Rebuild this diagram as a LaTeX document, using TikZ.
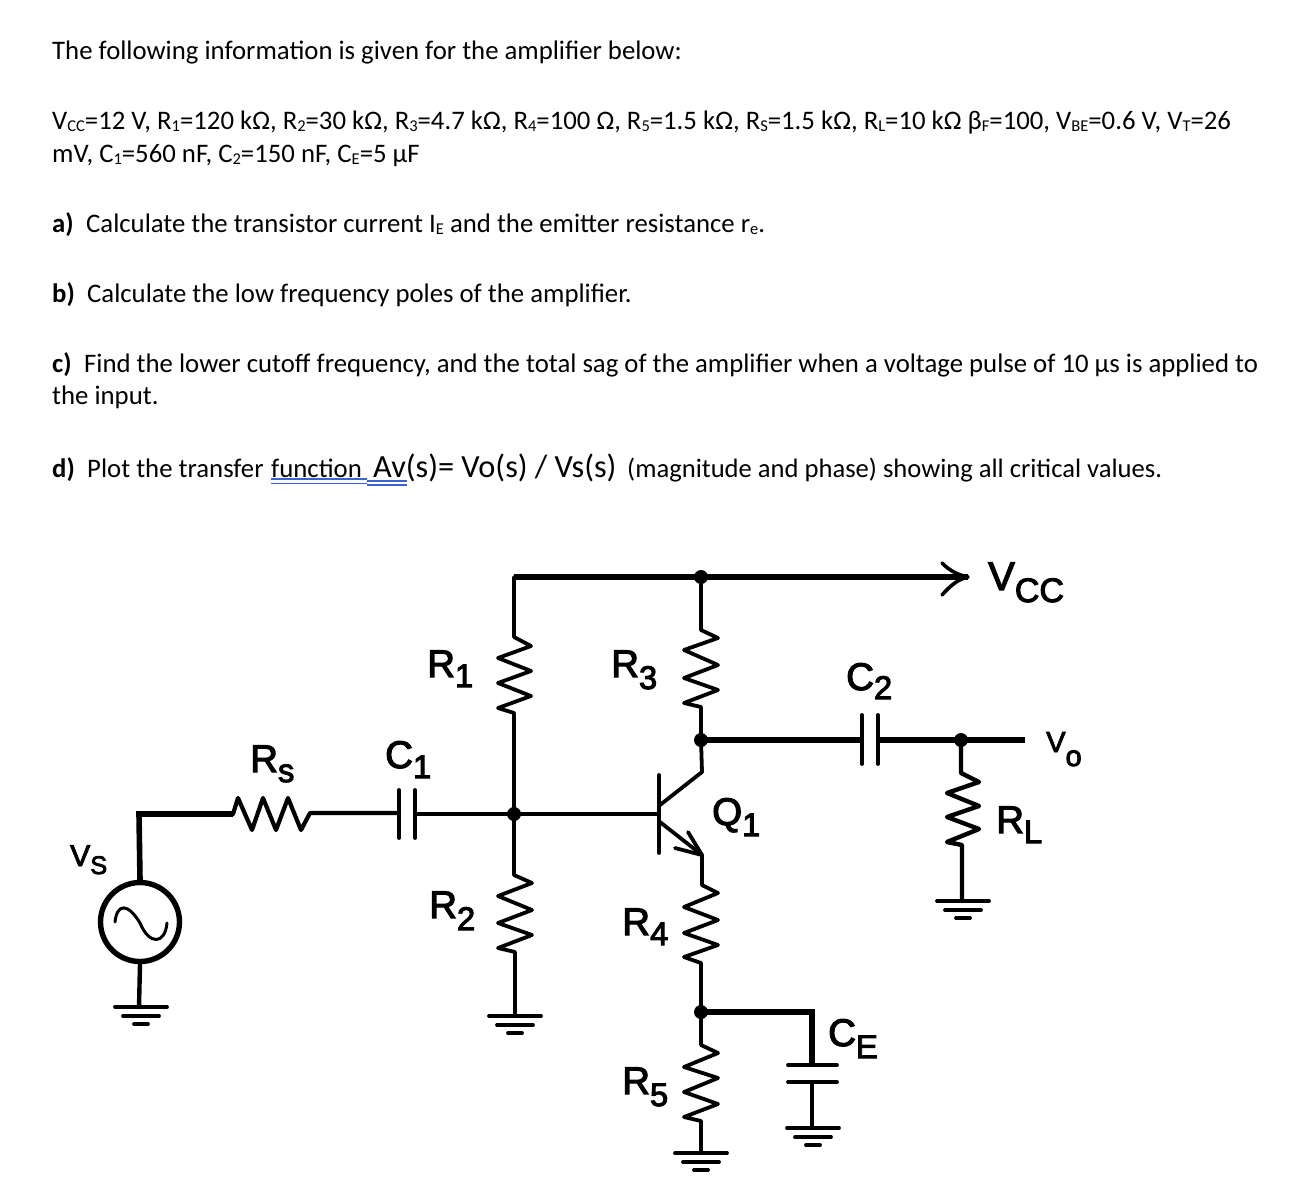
\documentclass[tikz,border=0pt]{standalone}
\usepackage{fontspec}
\setmainfont{Carlito}
\newfontfamily\cirfont[FakeBold=3]{Liberation Sans}
\usetikzlibrary{calc}
\definecolor{ulblue}{HTML}{3A62D2}
\newcommand{\sbs}[1]{\raisebox{-2.5pt}{\fontsize{16.5}{17}\selectfont #1}}
\newcommand{\lab}[7]{\node[lab] (#1) at (#2,#3) {\fontsize{#4}{#4}\selectfont #5\raisebox{#7pt}{\fontsize{\dimexpr#4pt*85/100\relax}{1}\selectfont #6}};}
\newcommand{\gnd}[1]{\begin{scope}[shift={(#1)}]
\draw[wire] (-26,0) -- (26,0);
\draw[wire] (-18,9) -- (18,9);
\draw[wire] (-7,17) -- (7,17);
\end{scope}}
\tikzset{
  x=1pt,y=-1pt,
  wire/.style={line width=3.8pt,line cap=round,line join=round,black},
  bus/.style={line width=5.6pt,line join=miter,black},
  junction/.style={circle,fill=black,minimum size=14pt,inner sep=0pt,draw=none},
  txt/.style={anchor=base west,inner sep=0pt,font=\fontsize{26.75}{32}\selectfont},
  btxt/.style={txt,font=\fontsize{26.75}{32}\selectfont\bfseries},
  lab/.style={anchor=base west,inner sep=0pt,font=\cirfont},
  ul/.style={line width=1.6pt,ulblue}
}
\begin{document}
\begin{tikzpicture}
\useasboundingbox (0,0) rectangle (1292,1202);
% ---------- text ----------
\node[txt] (t1) at (52,59) {The following information is given for the amplifier below:};
\node[txt] (t2) at (52,129) {V\sbs{CC}=12 V, R\sbs{1}=120 kΩ, R\sbs{2}=30 kΩ, R\sbs{3}=4.7 kΩ, R\sbs{4}=100 Ω, R\sbs{5}=1.5 kΩ, R\sbs{S}=1.5 kΩ, R\sbs{L}=10 kΩ β\sbs{F}=100, V\sbs{BE}=0.6 V, V\sbs{T}=26};
\node[txt] (t3) at (52,162) {mV, C\sbs{1}=560 nF, C\sbs{2}=150 nF, C\sbs{E}=5 μF};
\node[btxt] (a0) at (52,232) {a)};
\node[txt] (a1) at (86,232) {Calculate the transistor current I\sbs{E} and the emitter resistance r\sbs{e}.};
\node[btxt] (b0) at (52,302) {b)};
\node[txt] (b1) at (87,302) {Calculate the low frequency poles of the amplifier.};
\node[btxt] (c0) at (52,372) {c)};
\node[txt] (c1) at (84,372) {Find the lower cutoff frequency, and the total sag of the amplifier when a voltage pulse of 10 μs is applied to};
\node[txt] (c2) at (52,404) {the input.};
\node[btxt] (d0) at (52,477) {d)};
\node[txt] (d1) at (87,477) {Plot the transfer};
\node[txt] (d2) at (271,477) {function};
\node[txt,font=\fontsize{32.3}{36}\selectfont] (d3) at (373,477) {Av(s)= Vo(s) / Vs(s)};
\node[txt,font=\fontsize{26.6}{32}\selectfont] (d4) at (627,477) {(magnitude and phase) showing all critical values.};
\coordinate (ua) at (271,479);\coordinate (ub) at (367,479);
\coordinate (uc) at (271,483.5);\coordinate (ud) at (367,483.5);
\coordinate (ue) at (367,481);\coordinate (uf) at (407,481);
\coordinate (ug) at (367,485);\coordinate (uh) at (407,485);
\draw[ul] (ua) -- (ub);\draw[ul] (uc) -- (ud);\draw[ul] (ue) -- (uf);\draw[ul] (ug) -- (uh);
% ---------- key points ----------
\coordinate (corner) at (514,577);
\coordinate (vccend) at (968,577);
\coordinate (nbase) at (514,814);
\coordinate (ncol) at (701,740);
\coordinate (ntop) at (701,577);
\coordinate (nout) at (961,740);
\coordinate (voend) at (1025,740);
\coordinate (nemit) at (701,1012);
\coordinate (srccorner) at (139,814);
\coordinate (bpin) at (659,814);
\coordinate (cpin) at (702,772);
\coordinate (epin) at (702,855);
\coordinate (cecorner) at (812,1012);
% ---------- supply rail ----------
\draw[bus] (corner) -- (vccend);
\draw[wire,line width=3.6pt] (942,563) .. controls (950,571) and (958,575) .. (vccend) .. controls (958,579) and (950,586) .. (942,595);
\draw[wire] (corner) -- (514,637) -- (531,646) -- (498,658) -- (531,671) -- (498,683) -- (531,696) -- (498,708) -- (514,713) -- (nbase);
\draw[wire] (ntop) -- (701,630) -- (718,638) -- (684,650) -- (718,665) -- (684,678) -- (718,690) -- (684,703) -- (701,707) -- (ncol);
% ---------- output ----------
\coordinate (c2l) at (862,740);\coordinate (c2r) at (878,740);
\draw[bus] (ncol) -- (c2l);
\draw[bus] (c2r) -- (voend);
\draw[wire] (c2l) ++(0,-25) -- ++(0,49);
\draw[wire] (c2r) ++(0,-25) -- ++(0,49);
\draw[wire,line width=4.4pt] (nout) -- (961,773) -- (979,782) -- (947,793) -- (979,806) -- (947,817) -- (979,829) -- (947,842) -- (962,845) -- (962,901);
\coordinate (grl) at (963,901);\gnd{grl}
% ---------- transistor ----------
\draw[wire] (nbase) -- (bpin);
\draw[wire] (659,775) -- (659,853);
\draw[wire] (660,805) -- (cpin) -- (ncol);
\draw[wire] (660,822) -- (epin);
\draw[wire] (688,832) -- (epin) -- (675,848);
% ---------- emitter ----------
\draw[wire] (epin) -- (702,885) -- (718,893) -- (684,907) -- (718,920) -- (684,933) -- (718,945) -- (684,957) -- (701,963) -- (nemit);
\draw[wire] (nemit) -- (701,1045) -- (718,1053) -- (684,1067) -- (718,1078) -- (684,1092) -- (718,1104) -- (684,1117) -- (701,1121) -- (701,1153);
\coordinate (gr5) at (701,1153);\gnd{gr5}
\coordinate (cep1) at (812,1065);\coordinate (cep2) at (812,1082);\coordinate (grce) at (813,1128);
\draw[bus] (nemit) -- (cecorner) -- (cep1);
\draw[wire] (788,1065) -- (837,1065);
\draw[wire] (788,1082) -- (837,1082);
\draw[wire,line width=4.4pt] (cep2) -- (812,1128);
\gnd{grce}
% ---------- input ----------
\node[circle,draw=black,line width=5.4pt,minimum size=79pt,inner sep=0pt] (src) at (140,922) {};
\draw[bus] (src.north) -- (srccorner) -- (233,814);
\draw[wire,line width=4.2pt] (233,814) -- (238,798) -- (252,830) -- (263,798) -- (276,830) -- (288,798) -- (301,830) -- (310,813) -- (399,813);
\draw[wire,line width=3pt] (115,922) .. controls (117,903) and (128,903) .. (140,923) .. controls (149,945) and (165,945) .. (167,923);
\draw[wire,line width=4.4pt] (src.south) -- (139,1007);
\coordinate (grs) at (141,1007);\gnd{grs}
\draw[wire] (399,790) -- (399,838);
\draw[wire] (415,790) -- (415,838);
\draw[wire] (415,814) -- (nbase);
\draw[wire] (nbase) -- (514,875) -- (532,883) -- (498,896) -- (532,910) -- (498,923) -- (532,935) -- (498,948) -- (515,952) -- (515,1016);
\coordinate (gr2) at (515,1016);\gnd{gr2}
% ---------- junction dots ----------
\node[junction] (j1) at (ntop) {};
\node[junction] (j2) at (ncol) {};
\node[junction] (j3) at (nout) {};
\node[junction] (j4) at (nbase) {};
\node[junction] (j5) at (nemit) {};
% ---------- labels ----------
\lab{lRs}{250}{772}{38.5}{R}{s}{-10}
\lab{lC1}{385}{768}{38.5}{C}{1}{-10}
\lab{lR1}{427}{677}{38.5}{R}{1}{-10}
\lab{lR2}{429}{918}{38.5}{R}{2}{-12}
\lab{lR3}{611}{677}{38.5}{R}{3}{-12}
\lab{lC2}{846}{690}{38.5}{C}{2}{-9}
\lab{lQ1}{712}{825}{38.5}{Q}{1}{-11}
\lab{lRL}{996}{833}{38.5}{R}{L}{-10}
\lab{lR4}{622}{935}{38.5}{R}{4}{-10}
\lab{lR5}{622}{1094}{38.5}{R}{5}{-12}
\lab{lCE}{828}{1046}{38.5}{C}{E}{-12}
\lab{lVcc}{988}{590}{40}{V}{CC}{-12}
\node[lab] (lVo) at (1046,752) {\fontsize{29}{29}\selectfont V\raisebox{-14pt}{o}};
\lab{lVs}{70}{866}{30}{V}{S}{-8}
\end{tikzpicture}
\end{document}
